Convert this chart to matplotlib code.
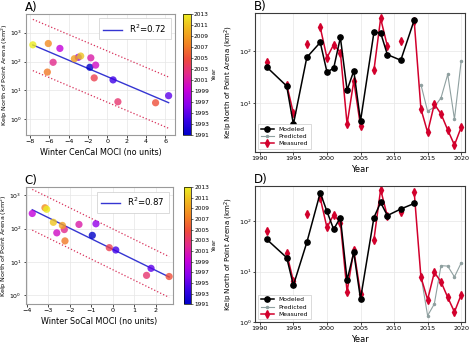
import numpy as np
import matplotlib
matplotlib.use('Agg')
import matplotlib.pyplot as plt
from matplotlib.colors import LinearSegmentedColormap, Normalize

# Years with a measurement used to fit the model (training years).
TRAIN_YEARS = [1991, 1994, 1995, 1997, 1999, 2000, 2001, 2002,
               2003, 2004, 2005, 2007, 2008, 2009, 2011, 2013]
# Years after the fit.
FORECAST_YEARS = [2014, 2015, 2016, 2017, 2018, 2019, 2020]

# Measured kelp canopy north of Point Arena (km^2).
MEASURED_TRAIN = [63, 23, 6.5, 140, 285, 75, 134, 94,
                  4.0, 27, 3.7, 43, 422, 125, 155, 380]
MEASURED_FORECAST = [7.9, 2.8, 9.7, 6.3, 3.1, 1.6, 3.5]

# Winter MOCI index for each training year.
MOCI_CENCAL = [-1.8, 0.6, 6.35, -3.0, -4.9, -1.2, -1.7, -5.6,
               1.1, -1.35, 5.0, -6.2, -6.1, -3.4, -2.75, -7.7]
MOCI_SOCAL = [-0.95, 0.14, 1.78, -0.78, -3.74, -2.6, -1.57, -2.25,
              1.57, -0.16, 2.62, -2.22, -3.15, -2.34, -2.76, -3.07]

# Model output, CenCal (panel B) and SoCal (panel D).
MODELED_B = [50, 21.5, 4.0, 76, 147, 40, 47, 183,
             18, 42, 4.6, 228, 224, 86, 67, 392]
PREDICTED_B = [23, 7.1, 8.5, 12.8, 36, 5.0, 64]
MODELED_D = [44, 19, 5.4, 38, 365, 156, 69, 118,
             6.8, 24, 2.9, 118, 234, 129, 174, 224]
PREDICTED_D = [8.5, 1.35, 2.3, 13.2, 12.9, 7.9, 14.9]

R2_TEXT = ['R$^2$=0.72', 'R$^2$=0.87']
# Half width of the dotted band, in decades.
BAND_WIDTH = [0.89, 0.61]

YLABEL = 'Kelp North of Point Arena (km$^2$)'

YEAR_CMAP = LinearSegmentedColormap.from_list('years', [
    '#0000c8', '#3a00e6', '#8a00ee', '#c800d8', '#e2288c',
    '#ee4a3c', '#f28222', '#f0b41e', '#ecec22'])


def measured_series():
    # Annual series with gaps so the red line breaks on missing years.
    years = np.arange(TRAIN_YEARS[0], FORECAST_YEARS[-1] + 1)
    values = np.full(len(years), np.nan)
    for y, v in zip(TRAIN_YEARS + FORECAST_YEARS, MEASURED_TRAIN + MEASURED_FORECAST):
        values[y - years[0]] = v
    return years, values


def style_axes(ax, spine_colour):
    for s in ax.spines.values():
        s.set_color(spine_colour)
        s.set_linewidth(0.8)
    ax.grid(True, color='#e6e6e6', lw=0.5)
    ax.set_axisbelow(True)
    ax.tick_params(labelsize=4.6, length=1.8, width=0.5, pad=1.0)
    ax.minorticks_off()


def scatter_panel(fig, rect, cbar_rect, moci, r2, band, ylim, xlim, xticks, xlabel, title):
    ax = fig.add_axes(rect)
    norm = Normalize(1991, 2013)
    sc = ax.scatter(moci, MEASURED_TRAIN, c=TRAIN_YEARS, cmap=YEAR_CMAP, norm=norm,
                    s=27, alpha=0.8, edgecolors='none', zorder=3)

    # Fit on log10 of the kelp area.
    x = np.array(moci)
    slope, intercept = np.polyfit(x, np.log10(MEASURED_TRAIN), 1)
    xs = np.array([x.min(), x.max()])
    fit = intercept + slope * xs
    ax.plot(xs, 10 ** fit, color='#3535d2', lw=1.0, label=r2, zorder=2)
    ax.plot(xs, 10 ** (fit + band), ':', color='#d8305a', lw=0.9)
    ax.plot(xs, 10 ** (fit - band), ':', color='#d8305a', lw=0.9)

    ax.set_yscale('log')
    ax.set_ylim(ylim)
    ax.set_xlim(xlim)
    ax.set_xticks(xticks)
    style_axes(ax, '#9a9a9a')
    ax.tick_params(axis='y', labelsize=4.4)
    ax.set_xlabel(xlabel, fontsize=5.8, labelpad=3)
    ax.set_ylabel(YLABEL, fontsize=4.6)
    ax.yaxis.set_label_coords(-0.11, 0.5)
    ax.set_title(title, loc='left', fontsize=8.5, pad=2, x=-0.01)
    leg = ax.legend(loc='upper right', fontsize=6.2, handlelength=2.2,
                    borderpad=0.5, fancybox=False, framealpha=1)
    leg.get_frame().set_linewidth(0.5)
    leg.get_frame().set_edgecolor('#cccccc')

    cax = fig.add_axes(cbar_rect)
    cb = fig.colorbar(sc, cax=cax, ticks=range(1991, 2014, 2))
    cb.solids.set_alpha(1)
    cb.outline.set_linewidth(0.5)
    cax.tick_params(labelsize=4.2, length=1.5, width=0.4, pad=1)
    cb.set_label('Year', fontsize=4.2, labelpad=2)
    return ax


def time_panel(fig, rect, modeled, predicted, ylim, title):
    ax = fig.add_axes(rect)
    years, measured = measured_series()

    ax.plot(TRAIN_YEARS, modeled, '-o', color='black', lw=1.1, ms=3.8,
            label='Modeled', zorder=3)
    ax.plot(FORECAST_YEARS, predicted, '-', color='#8fa0a0', lw=0.8,
            marker='.', ms=3, label='Predicted', zorder=2)
    ax.plot(years, measured, '-', color='#d2002c', lw=1.1, marker='d', ms=3.8,
            label='Measured', zorder=2.5)

    ax.set_yscale('log')
    ax.set_ylim(ylim)
    ax.set_xlim(1989.35, 2020.5)
    ax.set_xticks(range(1990, 2021, 5))
    style_axes(ax, '#3a3a3a')
    ax.set_xlabel('Year', fontsize=6, labelpad=3)
    ax.set_ylabel(YLABEL, fontsize=5.1, labelpad=3)
    ax.set_title(title, loc='left', fontsize=8.5, pad=1, x=-0.01)
    leg = ax.legend(loc='lower left', fontsize=4.3, handlelength=2.2,
                    borderpad=0.4, labelspacing=0.35, fancybox=False, framealpha=1)
    leg.get_frame().set_linewidth(0.5)
    leg.get_frame().set_edgecolor('#cccccc')
    return ax


def main():
    fig = plt.figure(figsize=(4.74, 3.48), dpi=100)

    scatter_panel(fig, [0.055, 0.612, 0.314, 0.348], [0.386, 0.612, 0.016, 0.348],
                  MOCI_CENCAL, R2_TEXT[0], BAND_WIDTH[0], (0.28, 4500), (-8.4, 7.0),
                  range(-8, 7, 2), 'Winter CenCal MOCI (no units)', 'A)')
    scatter_panel(fig, [0.054, 0.126, 0.311, 0.336], [0.388, 0.126, 0.015, 0.336],
                  MOCI_SOCAL, R2_TEXT[1], BAND_WIDTH[1], (0.55, 1740), (-4.05, 2.8),
                  range(-4, 3), 'Winter SoCal MOCI (no units)', 'C)')

    time_panel(fig, [0.539, 0.564, 0.441, 0.399], MODELED_B, PREDICTED_B, (1.19, 540), 'B)')
    time_panel(fig, [0.539, 0.074, 0.441, 0.392], MODELED_D, PREDICTED_D, (1.0, 500), 'D)')

    fig.savefig('out.png', dpi=100)


if __name__ == '__main__':
    main()
